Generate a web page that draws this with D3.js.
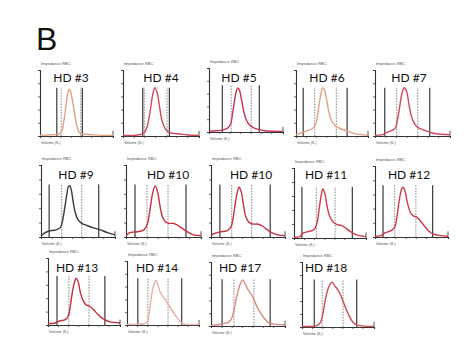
<!DOCTYPE html>
<html><head><meta charset="utf-8">
<script src="https://cdn.jsdelivr.net/npm/d3@7"></script>
<style>html,body{margin:0;padding:0;background:#fff;}svg{display:block;}</style>
</head><body>
<script>
// ---- DATA ----
const labels = ["HD #3","HD #4","HD #5","HD #6","HD #7","HD #9","HD #10","HD #10","HD #11","HD #12","HD #13","HD #14","HD #17","HD #18"];
// gate positions (volume units 0-100): [solid, dashed, dashed, solid]
const gates = [[23,29,56,58],[26,28,58,61],[18,30,57,68],[10,26,56,71],[13,29,57,73],[11,28,55,78],[12,28,56,80],[12,28,55,80],[11,31,57,81],[11,27,56,79],[12.5,29,57,79],[15,29,57,76],[15,31,58,80],[17,28,57,76]];
const gateHeight = 73;
const curves = [
 [[0,1],[10,1.5],[20,2],[26,3],[30,8],[33,25],[36,50],[38,65],[40,71],[42,67],[45,50],[48,30],[51,13],[54,5],[58,3],[70,2],[85,1],[100,1]],
 [[0,1],[15,1],[22,2],[28,5],[32,15],[36,40],[39,62],[42,73],[45,65],[48,45],[51,25],[55,12],[60,6],[66,4],[75,3],[85,1.5],[100,1]],
 [[0,1],[10,2],[18,3],[25,6],[29,12],[32,30],[35,52],[37,64],[39,69],[41,66],[44,50],[47,32],[50,20],[54,12],[60,7],[67,4],[75,2],[100,1]],
 [[0,2],[8,5],[16,8],[24,12],[28,20],[31,40],[34,60],[37,73],[40,68],[43,52],[46,35],[50,22],[55,15],[62,11],[70,8],[80,4],[90,2],[100,1]],
 [[0,1],[10,2],[15,5],[22,8],[27,12],[30,25],[33,45],[36,65],[39,73],[42,68],[45,50],[48,32],[52,20],[57,13],[65,9],[75,5],[85,3],[100,2]],
 [[0,1],[4,5],[10,8],[20,10],[26,13],[29,22],[32,40],[35,60],[37,70],[39,71],[41,65],[43,52],[46,35],[50,24],[55,19],[62,16],[70,13],[80,10],[90,6],[100,3]],
 [[0,2],[5,6],[12,7],[22,9],[27,14],[30,25],[33,45],[36,63],[39,71],[42,63],[45,45],[48,30],[52,22],[57,19],[63,19],[68,17],[75,12],[82,7],[90,3],[100,2]],
 [[0,2],[5,5],[12,7],[22,9],[27,14],[30,27],[33,48],[36,64],[38,69],[41,62],[44,44],[47,28],[51,21],[56,18],[62,18],[68,16],[75,11],[82,6],[90,3],[100,2]],
 [[0,1],[8,2],[12,7],[20,9],[28,12],[32,22],[35,42],[38,62],[40,70],[43,63],[46,45],[50,30],[55,22],[60,19],[66,18],[72,14],[80,8],[88,4],[100,2]],
 [[0,1],[8,2],[14,6],[22,9],[27,14],[30,28],[33,50],[36,66],[38,70],[41,65],[44,50],[48,36],[52,30],[57,28],[62,23],[68,15],[74,8],[80,4],[90,2],[100,1]],
 [[0,2],[10,3],[16,6],[24,8],[28,13],[31,28],[34,50],[37,65],[39,70],[42,64],[45,48],[49,36],[53,30],[58,28],[64,22],[70,15],[77,9],[85,5],[100,3]],
 [[0,1],[15,1],[24,2],[28,5],[31,20],[34,45],[37,62],[40,70],[43,62],[46,52],[50,44],[53,40],[57,33],[62,24],[67,15],[72,8],[78,2],[100,1]],
 [[0,1],[10,2],[18,4],[24,6],[28,12],[32,30],[36,52],[40,67],[43,72],[46,66],[50,57],[54,50],[57,44],[61,33],[66,22],[72,12],[78,5],[85,3],[100,2]],
 [[0,1],[15,1],[22,3],[26,8],[29,20],[32,40],[36,58],[39,66],[42,69],[45,64],[48,60],[51,55],[54,48],[57,40],[61,28],[66,16],[71,7],[77,3],[100,1]]
];
const xTicks = [0,14,28,42,56,70,84];
const yTicks = [0,20,40,60,80,100];

// ---- LAYOUT / STYLE ----
// [x0, x1, yTop, yBase, titleCx, titleBaseline]
const frames = [
 [40,113,70,136,71,82],[123,199,70,136,161,82],[209,283,68,132,239,82],[296,368,70,136,327,82],[375,450,70,136,409,82],
 [41,115,165,237,76,179],[126,201,165,237,168,179],[211,285,165,237,251,179],[294,366,168,238,326,179],[375,448,166,237,409,179],
 [48,120,258,325,77,272],[127,199,261,325,157,272],[211,285,262,326,240,272],[302,374,262,327,326,272]
];
const curveColors = ["#e3a184","#cf4a5a","#c93553","#e0a284","#d04a5c","#3a3a3a","#c8303f","#c93242","#d03a4a","#cf3a48","#c0303f","#e6b3a6","#d98a7e","#d04a55"];

const W = 474, H = 355;
const svg = d3.select("body").append("svg").attr("width", W).attr("height", H);

svg.append("text").attr("x", 36).attr("y", 50)
  .attr("font-family", "Liberation Sans, Arial, sans-serif").attr("font-size", 32)
  .attr("fill", "#111").text("B");

labels.forEach((lab, i) => {
  const [x0, x1, yt, yb, tcx, tby] = frames[i];
  const x = d3.scaleLinear().domain([0, 100]).range([x0, x1]);
  const y = d3.scaleLinear().domain([0, 100]).range([yb, yt]);
  const g = svg.append("g");

  // axes
  const ax = g.append("g").attr("transform", `translate(0,${yb})`)
    .call(d3.axisBottom(x).tickValues(xTicks).tickSize(2).tickFormat(""));
  const ay = g.append("g").attr("transform", `translate(${x0},0)`)
    .call(d3.axisLeft(y).tickValues(yTicks).tickSize(2).tickFormat(""));
  [ax, ay].forEach(a => {
    a.select(".domain").attr("stroke", "#333").attr("stroke-width", 1.1);
    a.selectAll(".tick line").attr("stroke", "#444").attr("stroke-width", 0.8);
  });
  // end marker of x axis
  g.append("line").attr("x1", x(100)).attr("x2", x(100)).attr("y1", y(0)).attr("y2", y(8))
    .attr("stroke", "#555").attr("stroke-width", 1);

  // gates
  gates[i].forEach((v, k) => {
    const solid = (k === 0 || k === 3);
    g.append("line").attr("x1", x(v)).attr("x2", x(v)).attr("y1", y(0)).attr("y2", y(gateHeight))
      .attr("stroke", solid ? "#3a3a3a" : "#8a8a8a")
      .attr("stroke-width", solid ? 1.2 : 1)
      .attr("stroke-dasharray", solid ? null : "1.6,1.2");
  });

  // curve
  g.append("path").datum(curves[i])
    .attr("d", d3.line().x(d => x(d[0])).y(d => y(d[1])).curve(d3.curveCatmullRom))
    .attr("fill", "none").attr("stroke", curveColors[i]).attr("stroke-width", 1.4);

  // texts
  g.append("text").attr("x", x0 + 1).attr("y", yt - 5)
    .attr("font-family", "Liberation Sans, Arial, sans-serif").attr("font-size", 4)
    .attr("fill", "#555").text("Impedance RBC");
  g.append("text").attr("x", x0 + 1).attr("y", yb + 8)
    .attr("font-family", "Liberation Sans, Arial, sans-serif").attr("font-size", 3.8)
    .attr("fill", "#555").text("Volume (fL)");
  g.append("text").attr("x", tcx).attr("y", tby).attr("text-anchor", "middle")
    .attr("font-family", "Lato, Liberation Sans, sans-serif").attr("font-size", 12)
    .attr("fill", "#111").text(lab);
});
</script>
</body></html>
